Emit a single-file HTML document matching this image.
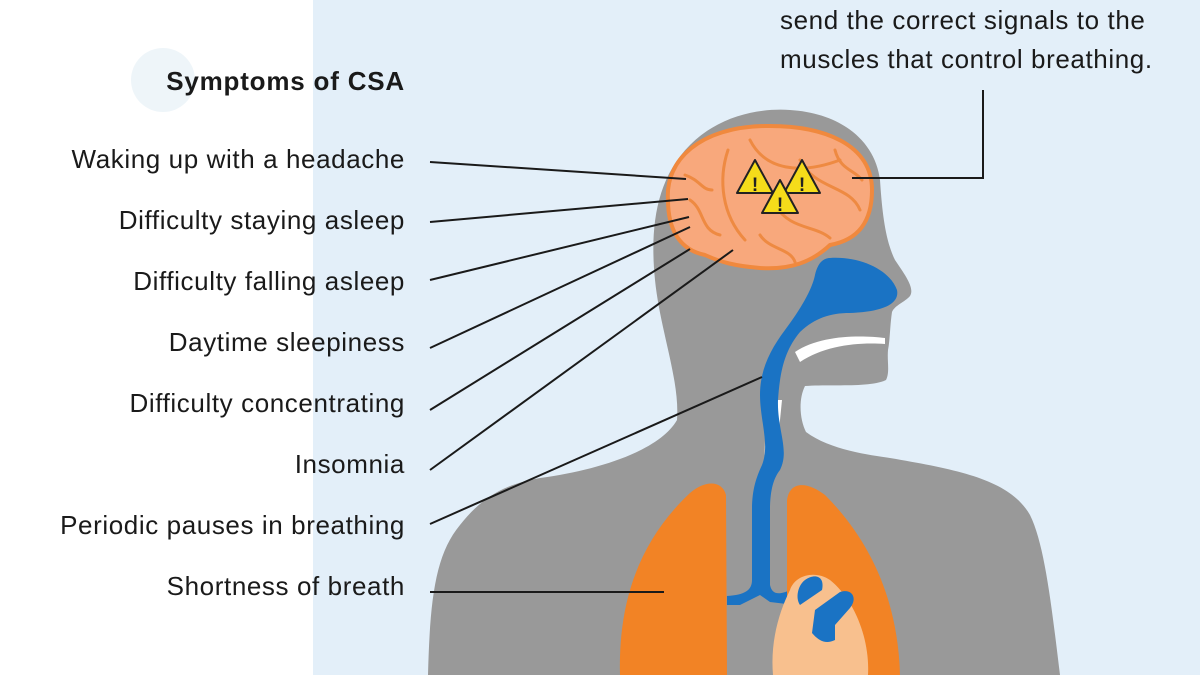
<!DOCTYPE html>
<html><head><meta charset="utf-8"><style>
body{margin:0;width:1200px;height:675px;overflow:hidden;background:#fff;font-family:"Liberation Sans",sans-serif;}
svg{position:absolute;left:0;top:0}
</style></head><body>
<svg width="1200" height="675" viewBox="0 0 1200 675" xmlns="http://www.w3.org/2000/svg">
<rect x="0" y="0" width="1200" height="675" fill="#fff"/>
<rect x="313" y="0" width="887" height="675" fill="#e3eff9"/>
<circle cx="163" cy="80" r="32" fill="#eef5f9"/>
<!-- body -->
<path d="M428,675 C430,600 435,555 460,525 C480,500 500,485 540,478 C600,470 660,450 677,420 C680,380 660,330 655,280 C650,230 655,180 690,145 C720,115 760,108 790,110 C840,113 875,140 880,180 C882,210 885,240 895,260 C905,275 915,288 910,296 C905,302 895,305 892,312 C890,325 890,340 888,350 C887,362 890,372 886,380 C870,388 830,384 805,386 C798,400 800,420 806,432 C830,450 870,455 890,458 C960,470 1010,480 1030,515 C1045,545 1052,610 1060,675 Z" fill="#999"/>
<!-- brain -->
<path d="M668,200 C665,160 700,127 765,126 C825,125 872,145 872,190 C872,222 858,240 830,245 C812,262 790,270 760,268 C735,266 720,262 705,255 C680,250 668,230 668,200 Z" fill="#f8a87c" stroke="#f0893e" stroke-width="4"/>
<g fill="none" stroke="#ee8a42" stroke-width="3" stroke-linecap="round">
<path d="M728,150 C718,180 722,215 745,240"/>
<path d="M750,140 C765,170 800,175 840,160"/>
<path d="M690,200 C705,210 700,230 720,235"/>
<path d="M775,205 C790,230 815,225 830,238"/>
<path d="M800,160 C815,190 850,185 860,210"/>
<path d="M760,235 C770,250 790,248 795,262"/>
<path d="M685,175 C700,180 702,190 712,190"/>
<path d="M835,150 C840,170 855,170 862,180"/>
</g>
<!-- warnings -->
<g stroke="#222" stroke-width="2" fill="#f5dc1a" stroke-linejoin="round">
<polygon points="755,160 737,193 773,193"/>
<polygon points="802,160 784,193 820,193"/>
<polygon points="780,180 762,213 798,213"/>
</g>
<g fill="#222" font-family="Liberation Sans" font-weight="bold" font-size="19" text-anchor="middle">
<text x="755" y="191">!</text><text x="802" y="191">!</text><text x="780" y="211">!</text>
</g>
<!-- mouth white -->
<path d="M795,352 C820,335 860,335 885,338 L885,344 C860,342 825,345 800,362 Z" fill="#fff"/>
<path d="M766,400 L782,400 L775,470 L764,480 Z" fill="#fff"/>
<!-- airway -->
<path d="M830,258 C860,256 890,270 897,290 C900,305 880,312 850,313 C830,313 815,318 800,332 C785,350 780,370 778,400 C777,430 790,450 780,470 C772,480 770,495 770,510 L770,585 C772,595 780,595 790,590 L800,580 L806,590 L795,605 L770,602 L760,595 L740,605 L727,605 L727,596 C745,595 752,590 752,580 L752,510 C752,490 756,478 762,465 C770,445 760,420 760,395 C760,370 770,350 785,330 C800,310 812,290 815,275 C818,262 824,258 830,258 Z" fill="#1a73c4"/>
<!-- lungs -->
<path d="M620,675 C618,600 640,540 690,493 C705,480 722,480 726,495 L727,675 Z" fill="#f28325"/>
<path d="M787,675 L787,500 C790,480 808,482 825,495 C870,540 898,600 900,675 Z" fill="#f28325"/>
<!-- heart -->
<path d="M790,590 C795,575 815,570 830,580 C855,600 870,640 868,675 L773,675 C770,640 780,610 790,590 Z" fill="#f8c08e"/>
<path d="M805,580 C815,573 825,576 822,590 L800,605 C795,598 798,585 805,580 Z" fill="#1a73c4"/>
<path d="M815,610 L840,592 C852,588 858,598 850,608 L835,625 L835,640 C825,645 818,640 812,633 Z" fill="#1a73c4"/>
<!-- leader lines -->
<g stroke="#1a1a1a" stroke-width="2" fill="none">
<line x1="430" y1="162" x2="686" y2="179"/>
<line x1="430" y1="222" x2="688" y2="199"/>
<line x1="430" y1="280" x2="689" y2="217"/>
<line x1="430" y1="348" x2="690" y2="227"/>
<line x1="430" y1="410" x2="690" y2="249"/>
<line x1="430" y1="470" x2="733" y2="250"/>
<line x1="430" y1="524" x2="762" y2="377"/>
<line x1="430" y1="592" x2="664" y2="592"/>
<polyline points="852,178 983,178 983,90"/>
</g>
<g font-family="Liberation Sans, sans-serif" font-size="26" fill="#1a1a1a" text-anchor="end" letter-spacing="0.6">
<text x="405" y="90" font-weight="bold" font-size="26" letter-spacing="0.8">Symptoms of CSA</text>
<text x="405" y="168">Waking up with a headache</text>
<text x="405" y="229">Difficulty staying asleep</text>
<text x="405" y="290">Difficulty falling asleep</text>
<text x="405" y="351">Daytime sleepiness</text>
<text x="405" y="412">Difficulty concentrating</text>
<text x="405" y="473">Insomnia</text>
<text x="405" y="534">Periodic pauses in breathing</text>
<text x="405" y="595">Shortness of breath</text>
</g>
<g font-family="Liberation Sans, sans-serif" font-size="26" fill="#1a1a1a" letter-spacing="0.6">
<text x="780" y="29">send the correct signals to the</text>
<text x="780" y="68">muscles that control breathing.</text>
</g>
</svg>
</body></html>
